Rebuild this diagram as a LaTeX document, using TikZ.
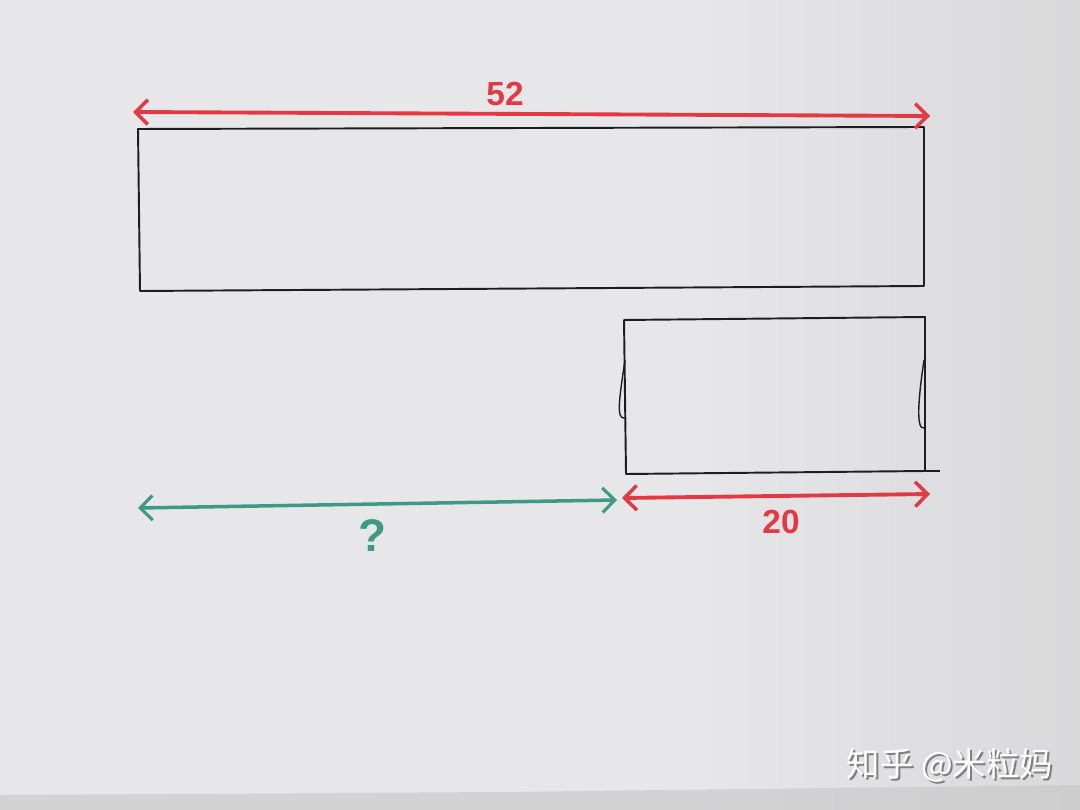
\documentclass[tikz,border=0pt]{standalone}
\usepackage{fontspec}
\setmainfont{Liberation Sans}
\newfontfamily\cjk{Noto Sans CJK SC}
\usetikzlibrary{arrows.meta}
\definecolor{paper}{HTML}{E7E7EA}
\definecolor{penred}{HTML}{E23A45}
\definecolor{pengreen}{HTML}{3E9A84}
\definecolor{pen}{HTML}{1E1E1E}
\tikzset{
  box/.style={draw=pen, line width=0.55pt, line join=round},
  dimred/.style={draw=penred, line width=1.1pt, line cap=round, {Straight Barb[length=3.5pt,width=7pt,line width=1pt]}-{Straight Barb[length=3.5pt,width=7pt,line width=1pt]}},
  dimgreen/.style={draw=pengreen, line width=1pt, line cap=round, {Straight Barb[length=3.5pt,width=7pt,line width=0.9pt]}-{Straight Barb[length=3.5pt,width=7pt,line width=0.9pt]}},
  lab/.style={font=\fontsize{9.5}{10}\selectfont\bfseries},
}
\begin{document}
\begin{tikzpicture}[x=0.01cm,y=-0.01cm]
\useasboundingbox (0,0) rectangle (1080,810);
\fill[paper] (0,0) rectangle (1080,810);
\shade[left color=paper, right color=gray!40, opacity=0.5] (700,0) rectangle (1080,810);
\fill[gray!45, opacity=0.6] (0,795) -- (500,792) -- (1080,785) -- (1080,810) -- (0,810) -- cycle;
% big rectangle
\coordinate (A1) at (138,129);
\coordinate (A2) at (924,127);
\coordinate (A3) at (924,286);
\coordinate (A4) at (140,291);
\draw[box] (A1) -- (A2) -- (A3) -- (A4) -- cycle;
% small rectangle
\coordinate (B1) at (624,320);
\coordinate (B2) at (925,317);
\coordinate (B3) at (925,471);
\coordinate (B4) at (626,474);
\coordinate (B5) at (940,471);
\draw[box] (B1) -- (B2) -- (B3) -- (B4) -- cycle;
\draw[box] (B3) -- (B5);
\draw[draw=pen, line width=0.4pt] (625,360) .. controls (619,400) and (616,420) .. (625,418);
\draw[draw=pen, line width=0.4pt] (924,360) .. controls (918,400) and (916,430) .. (924,428);
% dimension arrows
\coordinate (t1) at (133,112);
\coordinate (t2) at (930,116);
\draw[dimred] (t1) -- (t2);
\node[lab, text=penred] (n52) at (505,94) {52};
\coordinate (r1) at (622,498);
\coordinate (r2) at (930,494);
\draw[dimred] (r1) -- (r2);
\node[lab, text=penred] (n20) at (781,522) {20};
\coordinate (g1) at (138,508);
\coordinate (g2) at (617,500);
\draw[dimgreen] (g1) -- (g2);
\node[text=pengreen, font=\fontsize{13}{13}\selectfont\bfseries] (nq) at (372,536) {?};
% watermark
\node[text=black!50, font=\cjk\fontsize{9.5}{10}\selectfont] at (952,767) {知乎 @米粒妈};
\node[text=white, font=\cjk\fontsize{9.5}{10}\selectfont] (wm) at (950,765) {知乎 @米粒妈};
\end{tikzpicture}
\end{document}
